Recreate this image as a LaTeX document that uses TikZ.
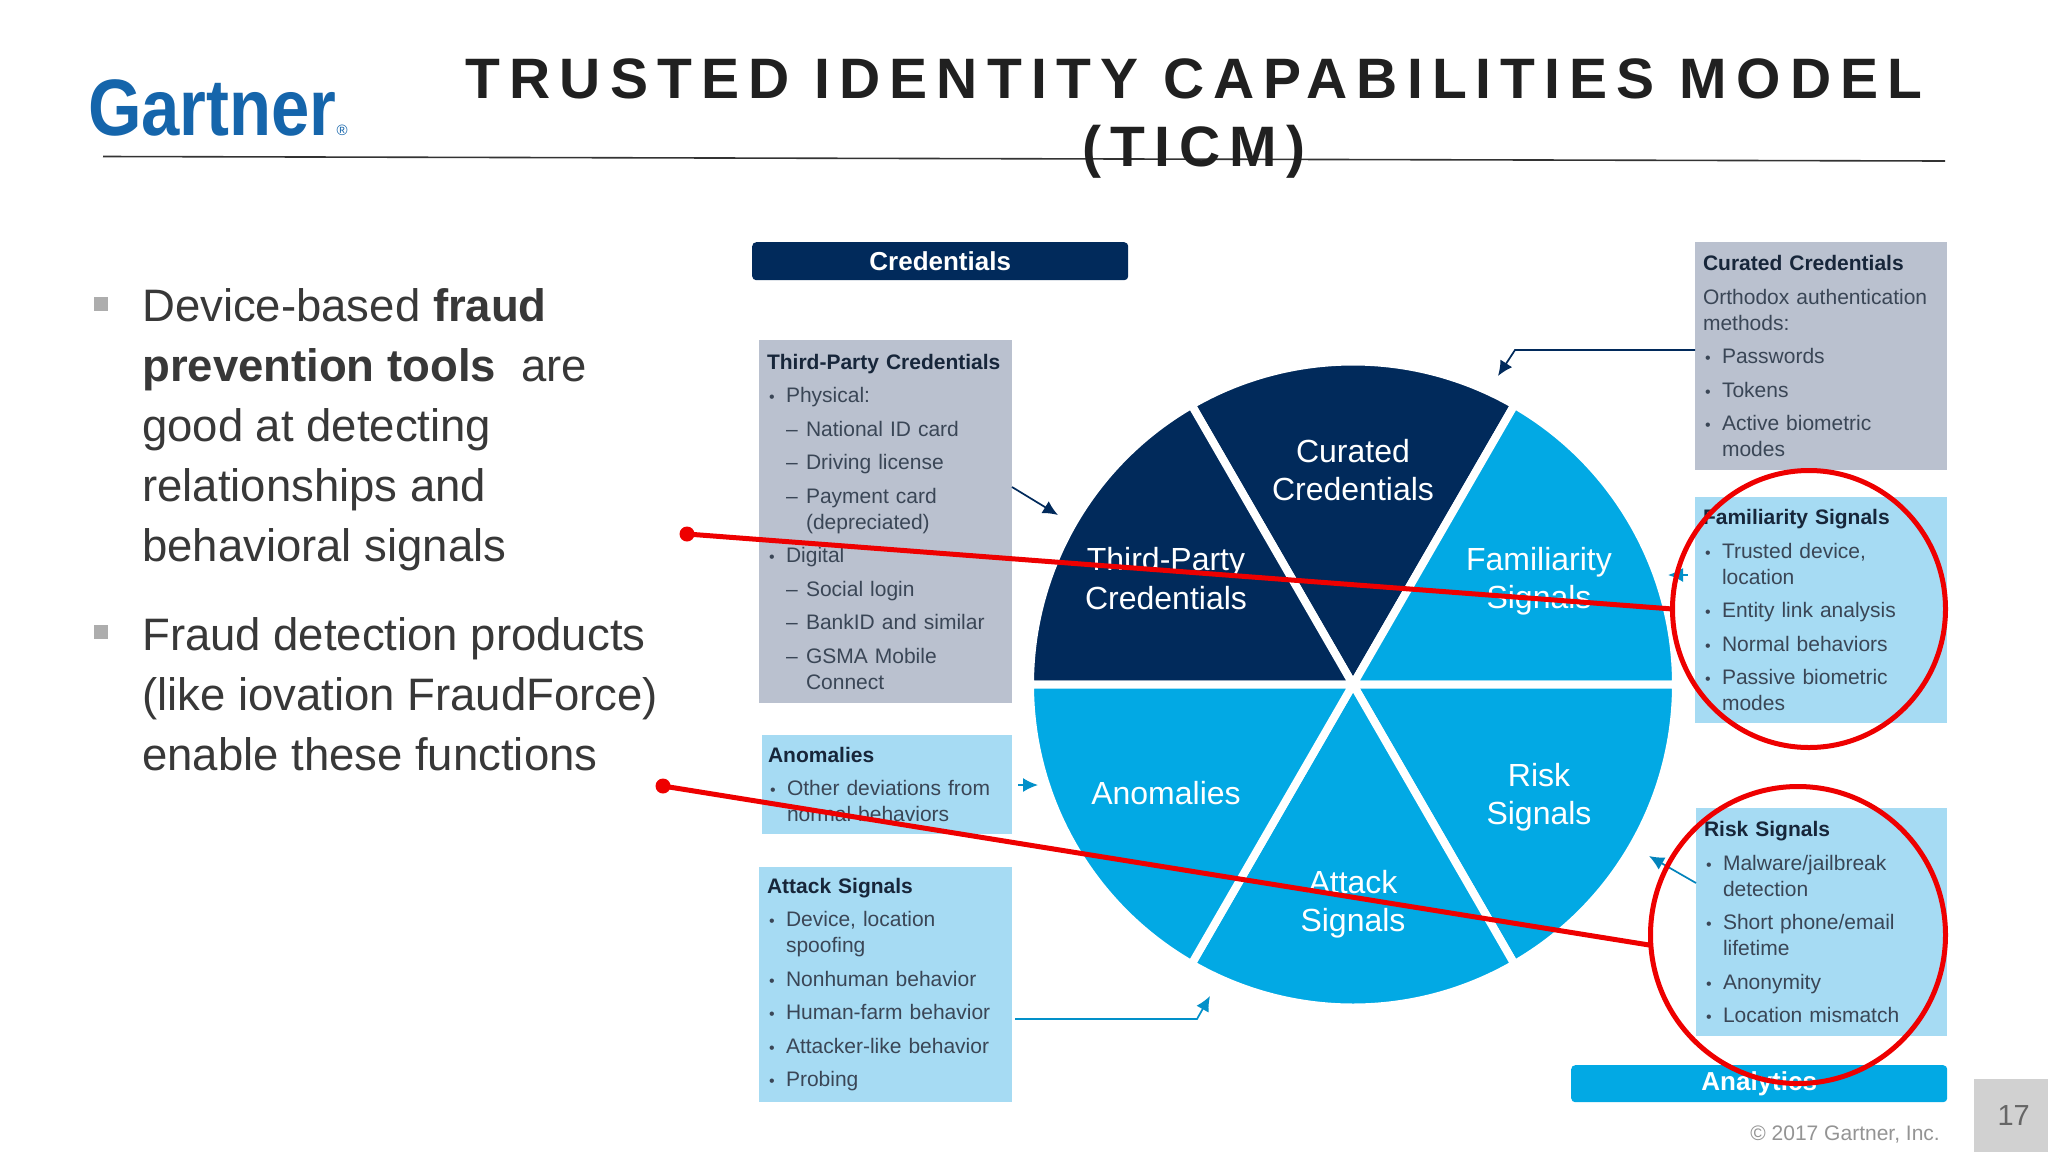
\documentclass[tikz,border=0pt]{standalone}
\usepackage{fontspec}
\usepackage{graphicx}
\setmainfont{Liberation Sans}
\newfontfamily\titlefont[LetterSpace=16]{Liberation Sans}
\usetikzlibrary{shapes.geometric,arrows.meta}
\definecolor{navy}{HTML}{012A5B}
\definecolor{sky}{HTML}{02A9E4}
\definecolor{greybox}{HTML}{BAC1CF}
\definecolor{bluebox}{HTML}{A6DBF3}
\definecolor{boxtext}{HTML}{3A4656}
\definecolor{boxhead}{HTML}{17263A}
\definecolor{bodytext}{HTML}{383838}
\definecolor{mark}{HTML}{EE0000}
\newcommand{\hd}[1]{{\bfseries\color{boxhead}#1}}
\newcommand{\bl}{\makebox[19pt][l]{\hspace{2pt}\fontsize{16}{16}\selectfont\textbullet}}
\newcommand{\ind}{\hspace*{19pt}}
\newcommand{\dsh}{\makebox[20pt][l]{\fontsize{21}{26}\selectfont --}}
\tikzset{
  infobox/.style={rectangle,anchor=north west,inner sep=0pt,inner xsep=8pt,align=left,
    font=\fontsize{21}{26}\selectfont,text=boxtext,outer sep=0pt},
  greyb/.style={infobox,fill=greybox},
  blueb/.style={infobox,fill=bluebox},
  bar/.style={rectangle,rounded corners=4pt,anchor=north west,inner sep=0pt,text=white,
    font=\fontsize{26}{30}\selectfont\bfseries},
  sector/.style={draw=white,line width=8pt,line join=miter},
  sectlabel/.style={text=white,align=center,font=\fontsize{32}{38.5}\selectfont,inner sep=0pt},
  body/.style={anchor=north west,align=left,inner sep=0pt,text=bodytext,
    font=\fontsize{45.5}{60}\selectfont},
  sqbullet/.style={rectangle,fill=black!32,minimum size=14pt,inner sep=0pt},
  feed/.style={line width=1.7pt,-{Latex[length=15pt,width=14pt]}},
  redring/.style={ellipse,draw=mark,line width=5pt,inner sep=0pt,outer sep=0pt},
  reddot/.style={circle,fill=mark,minimum size=15pt,inner sep=0pt},
  redline/.style={draw=mark,line width=5pt},
}
\begin{document}
\begin{tikzpicture}[x=1pt,y=-1pt]
\useasboundingbox (0,0) rectangle (2048,1152);
\fill[white] (0,0) rectangle (2048,1152);

% header
\coordinate (ruleL) at (103,156.5);
\coordinate (ruleR) at (1945,161);
\draw[line width=1.6pt,black!80] (ruleL) -- (ruleR);
\node[anchor=base west,inner sep=0pt,text={rgb,255:red,21;green,101;blue,171}] (logo) at (88,135)
  {\scalebox{0.86}[1]{\fontsize{80}{80}\selectfont\bfseries Gartner}{\fontsize{15}{15}\selectfont ®}};
\node[anchor=north,align=center,inner sep=0pt,text={rgb,255:red,32;green,32;blue,32},
  font=\fontsize{57}{68}\selectfont\titlefont\bfseries] (title) at (1194,58.5)
  {TRUSTED IDENTITY CAPABILITIES MODEL\\(TICM)};

% body
\node[sqbullet] (b1) at (100.5,304) {};
\node[body] (p1) at (142,288) {Device-based \textbf{fraud}\\\textbf{prevention tools}\ \ are\\good at detecting\\relationships and\\behavioral signals};
\node[sqbullet] (b2) at (100.5,632) {};
\node[body] (p2) at (142,617) {Fraud detection products\\(like iovation FraudForce)\\enable these functions};

% pie
\coordinate (pc) at (1353,684.5);
\draw[sector,fill=navy] (pc) -- ++(-120:323) arc[start angle=-120,end angle=-60,radius=323] -- cycle;
\draw[sector,fill=navy] (pc) -- ++(-180:323) arc[start angle=-180,end angle=-120,radius=323] -- cycle;
\draw[sector,fill=sky] (pc) -- ++(-60:323) arc[start angle=-60,end angle=0,radius=323] -- cycle;
\draw[sector,fill=sky] (pc) -- ++(0:323) arc[start angle=0,end angle=60,radius=323] -- cycle;
\draw[sector,fill=sky] (pc) -- ++(60:323) arc[start angle=60,end angle=120,radius=323] -- cycle;
\draw[sector,fill=sky] (pc) -- ++(120:323) arc[start angle=120,end angle=180,radius=323] -- cycle;
\node[sectlabel] (sCur) at (1353,470) {Curated\\Credentials};
\node[sectlabel] (sThi) at (1166,578.5) {Third-Party\\Credentials};
\node[sectlabel] (sFam) at (1539,581) {Familiarity\\Signals};
\node[sectlabel] (sAno) at (1166,793) {Anomalies};
\node[sectlabel] (sRis) at (1539,797) {Risk\\Signals};
\node[sectlabel] (sAtt) at (1353,904) {Attack\\Signals};

% bars
\node[bar,fill=navy,minimum width=376pt,minimum height=38pt] (credbar) at (752,242) {Credentials};
\node[bar,fill=sky,minimum width=376pt,minimum height=37pt] (anabar) at (1571,1065) {\raisebox{-2pt}{Analytics}};

% left boxes
\node[greyb,minimum width=253pt,minimum height=363pt,text width=237pt] (third) at (759,340) {%
\hd{Third-Party Credentials}\\[7.5pt]
\bl Physical:\\[7.5pt]
\ind\dsh National ID card\\[7.5pt]
\ind\dsh Driving license\\[7.5pt]
\ind\dsh Payment card\\
\ind\hspace*{20pt}(depreciated)\\[7.5pt]
\bl Digital\\[7.5pt]
\ind\dsh Social login\\[7.5pt]
\ind\dsh BankID and similar\\[7.5pt]
\ind\dsh GSMA Mobile\\
\ind\hspace*{20pt}Connect};
\node[blueb,inner xsep=6pt,minimum width=250pt,minimum height=99pt,text width=238pt] (anom) at (762,735) {%
\hd{Anomalies}\\[7.5pt]
\bl Other deviations from\\
\ind normal behaviors};
\node[blueb,minimum width=253pt,minimum height=235pt,text width=237pt] (attack) at (759,867) {%
\hd{Attack Signals}\\[7.5pt]
\bl Device, location\\
\ind spoofing\\[7.5pt]
\bl Nonhuman behavior\\[7.5pt]
\bl Human-farm behavior\\[7.5pt]
\bl Attacker-like behavior\\[7.5pt]
\bl Probing};

% right boxes
\node[greyb,minimum width=252pt,minimum height=228pt,text width=236pt] (cur) at (1695,242) {%
\hd{Curated Credentials}\\[7.5pt]
Orthodox authentication\\
methods:\\[7.5pt]
\bl Passwords\\[7.5pt]
\bl Tokens\\[7.5pt]
\bl Active biometric\\
\ind modes};
\node[blueb,minimum width=252pt,minimum height=226pt,text width=236pt] (fam) at (1695,497) {%
\hd{Familiarity Signals}\\[7.5pt]
\bl Trusted device,\\
\ind location\\[7.5pt]
\bl Entity link analysis\\[7.5pt]
\bl Normal behaviors\\[7.5pt]
\bl Passive biometric\\
\ind modes};
\node[blueb,minimum width=251pt,minimum height=228pt,text width=235pt] (risk) at (1696,808) {%
\hd{Risk Signals}\\[7.5pt]
\bl Malware/jailbreak\\
\ind detection\\[7.5pt]
\bl Short phone/email\\
\ind lifetime\\[7.5pt]
\bl Anonymity\\[7.5pt]
\bl Location mismatch};

% feeding arrows
\coordinate (thirdTip) at (1058,515);
\coordinate (curTip) at (1498,376);
\coordinate (curBend) at (1515,350);
\coordinate (famStart) at (1688,575);
\coordinate (famTip) at (1668,575);
\coordinate (anoTip) at (1038,785);
\coordinate (attBend) at (1197,1019);
\coordinate (attTip) at (1210,996);
\coordinate (riskTip) at (1649,856);
\draw[feed,navy] (third.east |- 0,487) -- (thirdTip);
\draw[feed,navy] (cur.west |- 0,350) -- (curBend) -- (curTip);
\draw[feed,sky!80!navy] (famStart) -- (famTip);
\draw[feed,sky!80!navy] (anom.east |- 0,785) ++(6,0) -- (anoTip);
\draw[feed,sky!80!navy] (attack.east |- 0,1019) ++(3,0) -- (attBend) -- (attTip);
\draw[feed,sky!70!navy] (risk.west |- 0,883) -- (riskTip);

% footer
\node[rectangle,fill=black!18,minimum width=74pt,minimum height=73pt,anchor=north west,
  inner sep=0pt,text=black!60,font=\fontsize{29}{32}\selectfont] (page) at (1974,1079) {\hspace{5pt}17};
\node[anchor=east,inner sep=0pt,text=black!42,font=\fontsize{21}{24}\selectfont] (copy) at (1940,1134) {© 2017 Gartner, Inc.};

% red callouts
\node[redring,minimum width=273pt,minimum height=277pt] (ring1) at (1809,609) {};
\node[redring,minimum width=295pt,minimum height=297pt] (ring2) at (1798,935) {};
\node[reddot] (dot1) at (687,534) {};
\node[reddot] (dot2) at (663,786) {};
\draw[redline] (dot1.center) -- (ring1.west);
\draw[redline] (dot2.center) -- (ring2.184);
\end{tikzpicture}
\end{document}
